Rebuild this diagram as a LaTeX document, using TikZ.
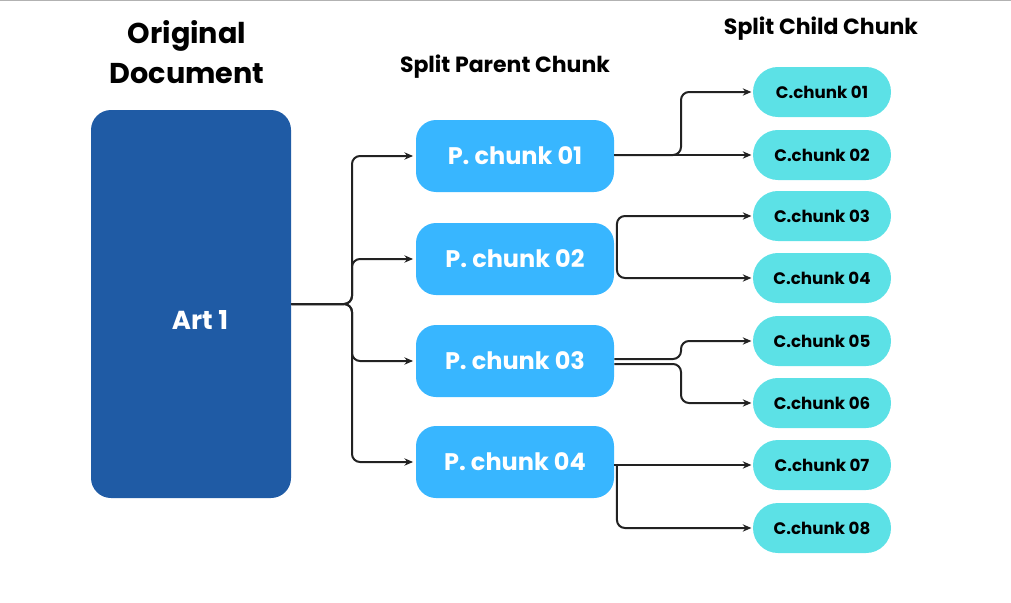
\documentclass[tikz,border=0pt]{standalone}
\usepackage{fontspec}
\setmainfont{Poppins}
\usetikzlibrary{arrows.meta}
\definecolor{docblue}{RGB}{31,91,165}
\definecolor{parentblue}{RGB}{56,182,255}
\definecolor{childcyan}{RGB}{92,225,230}
\definecolor{wire}{RGB}{34,34,34}
\tikzset{
    heading/.style={font=\bfseries\fontsize{16.5}{20}\selectfont,align=center},
    doc/.style={fill=docblue,rounded corners=15pt,minimum width=150pt,minimum height=291pt},
    doctext/.style={text=white,font=\bfseries\fontsize{19.5}{22}\selectfont},
    parent/.style={fill=parentblue,rounded corners=15pt,minimum width=148.5pt,minimum height=54pt,text=white,font=\bfseries\fontsize{18}{21}\selectfont},
    child/.style={fill=childcyan,rounded corners=18.7pt,minimum width=103.5pt,minimum height=37.5pt,text=black,font=\bfseries\fontsize{12.5}{15}\selectfont},
    link/.style={draw=wire,line width=1.5pt,rounded corners=6pt,-{Stealth[length=6.5pt,width=5.5pt]}}
}
\def\forkx{352}
\def\splitx{681}

\begin{document}
\begin{tikzpicture}[x=0.75pt,y=-0.75pt]
  \useasboundingbox (0,0) rectangle (1011,603);
  \draw[gray!60,line width=1pt] (0,0.5) -- (1011,0.5);

  % Headings
  \node[heading,font=\bfseries\fontsize{21.5}{30}\selectfont] (tdoc) at (187,52) {Original\\Document};
  \node[heading] (tparent) at (505,67) {Split Parent Chunk};
  \node[heading] (tchild) at (821,29) {Split Child Chunk};

  % Document
  \node[doc] (art) at (191,304) {};
  \node[doctext] (arttext) at (200,320) {Art 1};

  % Parent chunks
  \node[parent] (p1) at (515,156) {P. chunk 01};
  \node[parent] (p2) at (515,259) {P. chunk 02};
  \node[parent] (p3) at (515,361) {P. chunk 03};
  \node[parent] (p4) at (515,462) {P. chunk 04};

  % Child chunks
  \foreach \i/\y in {1/92,2/155,3/216,4/278,5/341,6/403,7/465,8/528}
    \node[child] (c\i) at (822,\y) {C.chunk 0\i};

  % Document to parents
  \coordinate (fork) at (\forkx,304);
  \foreach \p in {p1,p2,p3,p4}
    \draw[link] (art.east) -- (fork) |- ([xshift=-2pt]\p.west);

  % Parents to children
  \coordinate (s1) at (\splitx,155);
  \draw[link] (p1.east |- s1) -- (s1) |- ([xshift=-1pt]c1.west);
  \draw[link] (p1.east |- s1) -- ([xshift=-1pt]c2.west);

  \coordinate (b2) at ([xshift=2pt]p2.east);
  \draw[link] (b2) |- ([xshift=-1pt]c3.west);
  \draw[link] (b2) |- ([xshift=-1pt]c4.west);

  \draw[link] ([yshift=1.5pt]p3.east) -- (\splitx,359) |- ([xshift=-1pt]c5.west);
  \draw[link] ([yshift=-2.25pt]p3.east) -- (\splitx,364) |- ([xshift=-1pt]c6.west);

  \draw[link] (p4.east |- c7) -- ([xshift=-1pt]c7.west);
  \draw[link] ([xshift=2pt]p4.east |- c7) |- ([xshift=-1pt]c8.west);
\end{tikzpicture}
\end{document}
